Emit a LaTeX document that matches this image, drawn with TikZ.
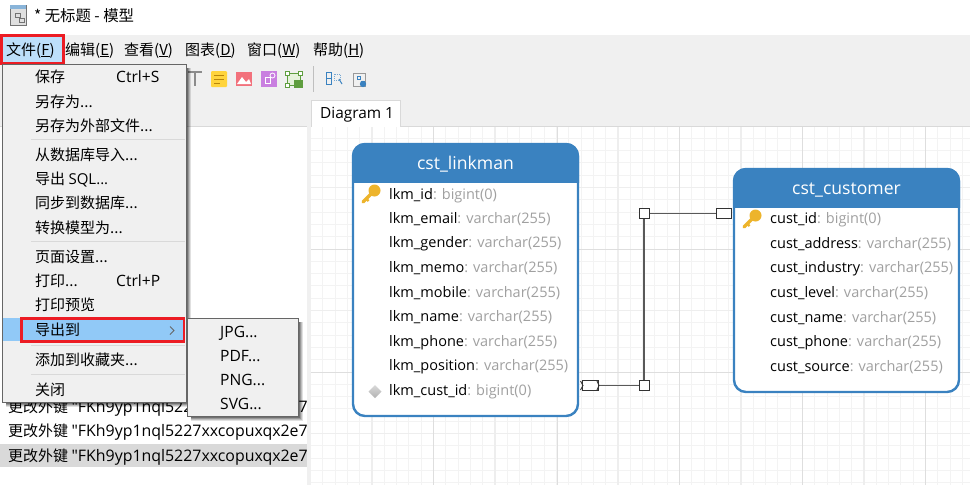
\documentclass[tikz,border=0pt]{standalone}
\usepackage{fontspec}
\setmainfont{Noto Sans CJK SC}
\newfontfamily\latinf{Open Sans}
\definecolor{hdr}{HTML}{3A82C0}
\definecolor{barbg}{HTML}{F0F0F0}
\definecolor{menuhl}{HTML}{91C9F7}
\definecolor{redb}{HTML}{EC1C24}
\definecolor{gridc}{HTML}{F3F3F3}
\definecolor{gridm}{HTML}{EEEEEE}
\definecolor{gridd}{HTML}{DEDEDE}
\definecolor{typec}{HTML}{A0A0A0}
\definecolor{keyc}{HTML}{EDB42C}
\definecolor{noteY}{HTML}{FFD43C}
\definecolor{noteL}{HTML}{B8860B}
\definecolor{imgR}{HTML}{F2717C}
\definecolor{shP}{HTML}{C97FE0}
\definecolor{grnD}{HTML}{5F9E3F}
\definecolor{grnL}{HTML}{E6F2DC}
\tikzset{x=1pt,y=-1pt,
 mi/.style={anchor=base west,inner sep=0pt,font=\fontsize{15}{17}\selectfont},
 ml/.style={anchor=base west,inner sep=0pt,font=\latinf\fontsize{15.6}{17}\selectfont},
 fld/.style={anchor=base west,inner sep=0pt,font=\latinf\fontsize{14.5}{17}\selectfont},
 ttl/.style={anchor=base,inner sep=0pt,text=white,font=\latinf\fontsize{17.6}{20}\selectfont},
 sq/.style={draw=black!80,fill=white,line width=1pt,minimum size=10pt,inner sep=0pt},
 card/.style={draw=black!80,fill=white,line width=1pt,minimum width=15pt,minimum height=10pt,inner sep=0pt},
 link/.style={draw=black!65,line width=1.1pt},
 redbox/.style={draw=redb,line width=2.5pt},
 sepl/.style={draw=black!15,line width=.8pt}}
\newcommand{\ddd}{...}
\newcommand{\fldrow}[4]{\node[fld] (#1) at (#2) {#3\textcolor{typec}{: #4}};}
\newcommand{\keyicon}[1]{\begin{scope}[shift={(#1)}]
 \draw[keyc,line width=3.2pt,line cap=round] (-9,9) -- (0,0);
 \draw[keyc,line width=2.4pt] (-6,5.5) -- (-3.5,8);
 \fill[keyc] (2.5,-2.5) circle (6);
 \end{scope}}
\begin{document}
\begin{tikzpicture}
\path[use as bounding box] (0,0) rectangle (970,485);
\fill[white] (0,0) rectangle (970,485);
% canvas grid
\foreach \k in {1,...,53}{\draw[gridc,line width=.9pt] (310.5+12.3*\k,127) -- (310.5+12.3*\k,485);}
\foreach \k in {0,...,29}{\draw[gridc,line width=.9pt] (311,126+12.3*\k) -- (970,126+12.3*\k);}
\foreach \x in {372,495,618,741,864}{\draw[gridm,line width=1.4pt] (\x,127) -- (\x,485);}
\foreach \y in {187.5,310.5,433.5}{\draw[gridm,line width=1.4pt] (311,\y) -- (970,\y);}
\foreach \x in {433.5,557,679.5,802.5,925.5}{\draw[gridd,line width=.8pt] (\x,127) -- (\x,485);}
\foreach \y in {249,372}{\draw[gridd,line width=.8pt] (311,\y) -- (970,\y);}
% chrome
\fill[barbg] (0,35) rectangle (970,126);
\fill[barbg] (307,126) rectangle (311,485);
\draw[black!15,line width=.9pt] (0,126.5) -- (307,126.5) (400,126.5) -- (970,126.5);
\draw[black!15,fill=white,line width=.9pt] (311,127) -- (311,100) -- (400.5,100) -- (400.5,127);
\node[anchor=base west,inner sep=0pt,font=\latinf\fontsize{15.4}{17}\selectfont] (tab) at (320,118) {Diagram 1};
% title
\draw[black!55,fill=black!12] (10,5) rectangle (26,25);
\fill[hdr!60] (10,5) rectangle (26,9);
\draw[black!55] (15,13) rectangle (20,17) (19,18) rectangle (24,22);
\node[anchor=base west,inner sep=0pt,font=\fontsize{15.4}{17}\selectfont] (title) at (34,21) {* 无标题 - 模型};
% menu bar
\fill[menuhl!60] (2,36) rectangle (62,64);
\node[mi] (m1) at (6,55) {文件(\underline{F})};
\node[mi] (m2) at (65,55) {编辑(\underline{E})};
\node[mi] (m3) at (124,55) {查看(\underline{V})};
\node[mi] (m4) at (185,55) {图表(\underline{D})};
\node[mi] (m5) at (247,55) {窗口(\underline{W})};
\node[mi] (m6) at (313,55) {帮助(\underline{H})};
\draw[redbox] (1.5,35.5) rectangle (63.5,63.5);
% toolbar icons
\draw[black!45,line width=1.6pt] (188,72) -- (202,72) (195,72) -- (195,86);
\fill[noteY,rounded corners=1pt] (211,71) rectangle (227,87);
\draw[noteL,line width=.8pt] (214,75) -- (224,75) (214,79) -- (224,79) (214,83) -- (220,83);
\fill[imgR] (236,72) rectangle (252,86);
\fill[white] (237,84) -- (242,77) -- (246,82) -- (249,79) -- (251,84) -- cycle;
\fill[shP] (261,71) rectangle (277,87);
\draw[white,line width=.8pt] (265,77) rectangle (270,83);
\draw[white,line width=.8pt] (272.5,75.5) circle (2.5);
\fill[grnL] (287,73) rectangle (300,85);
\draw[grnD,line width=.8pt] (287,73) rectangle (300,85);
\draw[grnD,fill=white,line width=.8pt] (285,71) rectangle (289,75) (298,71) rectangle (302,75) (285,83) rectangle (289,87);
\fill[grnD] (294,80) rectangle (303,88);
\draw[black!25,line width=.8pt] (313.5,66) -- (313.5,92);
\draw[hdr,line width=1pt] (326,72) rectangle (331,84);
\draw[hdr,line width=1pt] (326,78) -- (331,78);
\draw[hdr!70,line width=1pt,densely dotted] (334,74) rectangle (340,80);
\draw[hdr,line width=1pt] (339,79) -- (342,84);
\draw[black!40,line width=1pt] (353,73) rectangle (365,86);
\draw[hdr,line width=.8pt] (357,76) rectangle (360,79) (361,81) rectangle (364,84);
\fill[hdr] (363,84) circle (3.2);
% left panel
\fill[black!15] (0,443.5) rectangle (306.5,466.5);
\begin{scope}
\clip (0,395) rectangle (306.5,470);
\foreach \nm/\y in {r1/412,r2/436,r3/461}{\node[anchor=base west,inner sep=0pt,font=\fontsize{15}{17}\selectfont] (\nm) at (8,\y) {更改外键 {\latinf\fontsize{15.9}{17}\selectfont "FKh9yp1nql5227xxcopuxqx2e7}};}
\end{scope}
% menu drop
\foreach \d/\o in {5/.12,4/.15,3/.2,2/.25}{\fill[black,opacity=\o] (6,68) rectangle (186+\d,402+\d);}
\fill[barbg] (2,64) rectangle (186,402);
\draw[black!60,line width=.9pt] (2,64) rectangle (186,402);
\foreach \y in {139,241,345,374}{\draw[sepl] (31,\y) -- (185,\y);}
\foreach \nm/\t/\y in {a1/保存/82,a2/另存为\ddd/107,a3/另存为外部文件\ddd/131,a4/从数据库导入\ddd/160,a6/同步到数据库\ddd/208,a7/转换模型为\ddd/233,a8/页面设置\ddd/262,a9/打印\ddd/286,a10/打印预览/310,a11/添加到收藏夹\ddd/365,a12/关闭/395}{\node[mi] (\nm) at (35,\y) {\t};}
\node[mi] (a5) at (35,184) {导出 {\latinf SQL\ddd}};
\node[ml] (k1) at (116,82) {Ctrl+S};
\node[ml] (k2) at (116,286) {Ctrl+P};
\fill[menuhl] (3,318) rectangle (185,341);
\node[mi] (exp) at (35,335) {导出到};
\draw[black!60,line width=.9pt] (170,326.5) -- (174,330.5) -- (170,334.5);
\draw[redbox] (21.5,318.5) rectangle (184,341.5);
% submenu
\foreach \d/\o in {5/.12,4/.15,3/.2,2/.25}{\fill[black,opacity=\o] (191,322) rectangle (298+\d,416+\d);}
\fill[barbg] (187,318) rectangle (298,416);
\draw[black!60,line width=.9pt] (187,318) rectangle (298,416);
\foreach \nm/\t/\y in {s1/JPG\ddd/337,s2/PDF\ddd/361,s3/PNG\ddd/385,s4/SVG\ddd/409}{\node[ml] (\nm) at (220,\y) {\t};}
% tables
\draw[hdr,line width=2.4pt,fill=white,rounded corners=12pt] (353,144) rectangle (578,416);
\begin{scope}
\clip (340,130) rectangle (590,182);
\fill[hdr,rounded corners=13pt] (352,143) rectangle (579,210);
\end{scope}
\node[ttl] (t1) at (465.5,169) {cst\_linkman};
\keyicon{372,193}
\fldrow{f1}{389,199}{lkm\_id}{bigint(0)}
\fldrow{f2}{389,223}{lkm\_email}{varchar(255)}
\fldrow{f3}{389,247}{lkm\_gender}{varchar(255)}
\fldrow{f4}{389,272}{lkm\_memo}{varchar(255)}
\fldrow{f5}{389,297}{lkm\_mobile}{varchar(255)}
\fldrow{f6}{389,321}{lkm\_name}{varchar(255)}
\fldrow{f7}{389,346}{lkm\_phone}{varchar(255)}
\fldrow{f8}{389,370}{lkm\_position}{varchar(255)}
\fldrow{f9}{389,395}{lkm\_cust\_id}{bigint(0)}
\shade[top color=black!15,bottom color=black!30] (375,385) -- (381.5,391.5) -- (375,398) -- (368.5,391.5) -- cycle;
\draw[hdr,line width=2.4pt,fill=white,rounded corners=12pt] (734,169) rectangle (959,392);
\begin{scope}
\clip (720,155) rectangle (970,207);
\fill[hdr,rounded corners=13pt] (733,168) rectangle (960,235);
\end{scope}
\node[ttl] (t2) at (846.5,194) {cst\_customer};
\keyicon{753,218}
\fldrow{g1}{770,223}{cust\_id}{bigint(0)}
\fldrow{g2}{770,248}{cust\_address}{varchar(255)}
\fldrow{g3}{770,272}{cust\_industry}{varchar(255)}
\fldrow{g4}{770,297}{cust\_level}{varchar(255)}
\fldrow{g5}{770,322}{cust\_name}{varchar(255)}
\fldrow{g6}{770,346}{cust\_phone}{varchar(255)}
\fldrow{g7}{770,371}{cust\_source}{varchar(255)}
% connector
\node[sq] (c1) at (644,213.5) {};
\node[sq] (c2) at (644,385.5) {};
\node[card] (e1) at (723.5,213.5) {};
\node[card,minimum width=16pt] (e2) at (590,385.5) {};
\draw[link] (e1) -- (c1);
\draw[link] (c1) -- (c2);
\draw[link] (c2) -- (e2);
\draw[black!80,line width=.9pt] (580.5,381) -- (583,385.5) -- (580.5,390);
\draw[black!80,line width=.9pt] (597,381) -- (599,385.5) -- (597,390);
\end{tikzpicture}
\end{document}
